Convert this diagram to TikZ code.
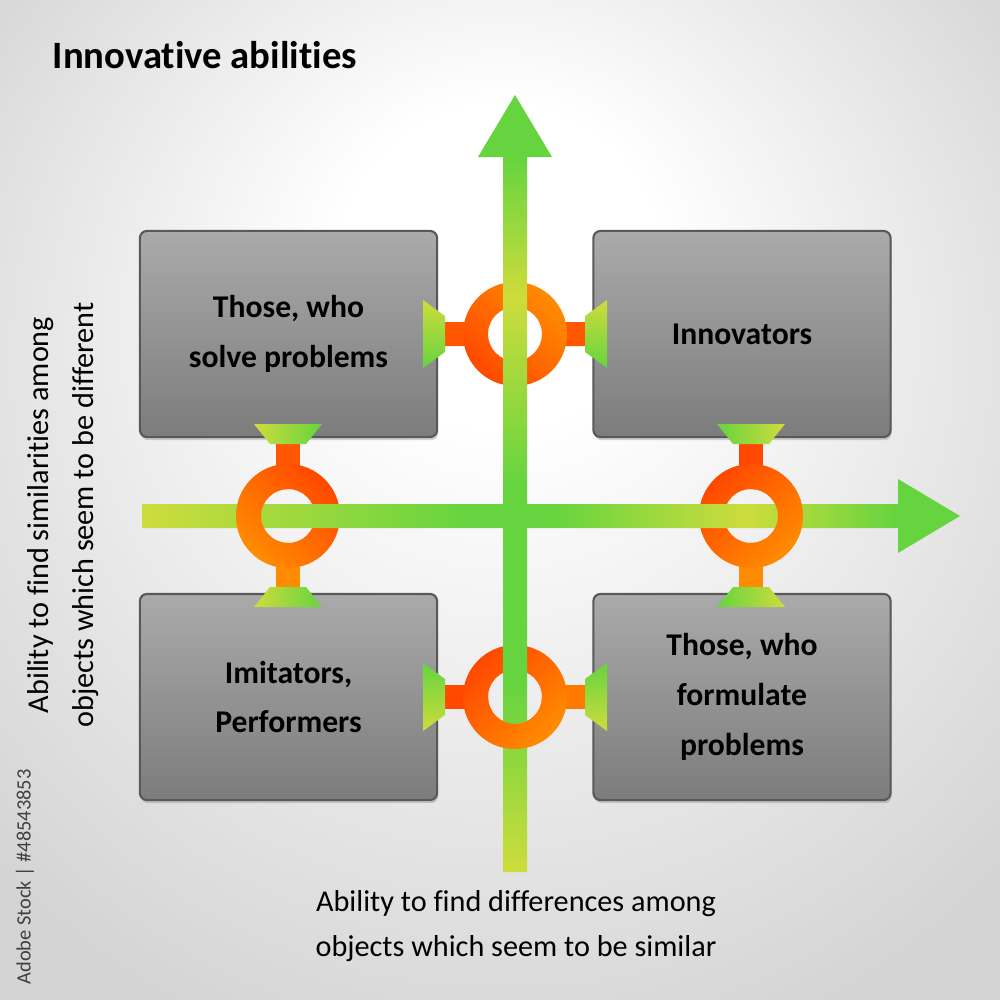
\documentclass[tikz,border=0pt]{standalone}
\usepackage{fontspec}
\setmainfont[Ligatures=NoCommon]{Carlito}
\usetikzlibrary{shadows}
\definecolor{agrn}{RGB}{102,212,63}
\definecolor{ayel}{RGB}{206,220,60}
\definecolor{rred}{RGB}{255,72,0}
\definecolor{rorg}{RGB}{255,140,0}
\definecolor{bxtop}{RGB}{170,170,170}
\definecolor{bxbot}{RGB}{124,124,124}
\definecolor{bgedge}{RGB}{212,212,212}
\pgfdeclareverticalshading{vgrad}{100bp}{color(0bp)=(ayel); color(25bp)=(ayel); color(37bp)=(agrn); color(50bp)=(agrn); color(62bp)=(ayel); color(71bp)=(agrn); color(100bp)=(agrn)}
\pgfdeclarehorizontalshading{hgrad}{100bp}{color(0bp)=(ayel); color(25bp)=(ayel); color(45bp)=(agrn); color(50bp)=(agrn); color(62bp)=(ayel); color(71bp)=(agrn); color(100bp)=(agrn)}
\pgfdeclareradialshading{bgglow}{\pgfpoint{0bp}{14bp}}{color(0bp)=(white); color(8bp)=(white); color(34bp)=(bgedge); color(50bp)=(bgedge)}
\tikzset{
  quad/.style={rectangle,rounded corners=2pt,minimum width=2.97cm,minimum height=2.06cm,
    top color=bxtop,bottom color=bxbot,draw=black!65,line width=0.6pt,
    drop shadow={shadow xshift=0.3pt,shadow yshift=-0.9pt,opacity=0.35},
    align=center,inner sep=0pt,font=\fontsize{9}{14.2}\selectfont\bfseries},
  axislabel/.style={align=center,inner sep=0pt,font=\fontsize{8.6}{12.8}\selectfont},
  ring/.style={even odd rule,draw=none},
  funnel/.style={draw=none},
  hubbar/.style={draw=none,fill=#1}
}
\begin{document}
\begin{tikzpicture}[x=0.01cm,y=-0.01cm]
\useasboundingbox (0,0) rectangle (1000,1000);
\shade[shading=bgglow] (0,0) rectangle (1000,1000);
\node[anchor=base west,inner sep=0pt,font=\fontsize{11}{13}\selectfont\bfseries](title) at (52,68){Innovative abilities};
\node[quad](solvers) at (288.5,334){Those, who\\solve problems};
\node[quad](innovators) at (742,334){Innovators};
\node[quad](imitators) at (288.5,697){Imitators,\\Performers};
\node[quad](formulators) at (742,697){Those, who\\formulate\\problems};
\coordinate(rtop) at (515,334);
\coordinate(rbot) at (515,697);
\coordinate(rleft) at (288,516);
\coordinate(rright) at (751,516);
\fill[hubbar=rred!80!rorg] (445,322) rectangle (482,346) (548,322) rectangle (585,346);
\fill[hubbar=rred] (445,685) rectangle (482,709);
\fill[hubbar=rorg!70!rred] (548,685) rectangle (585,709);
\fill[hubbar=rred!80!rorg] (276,444) rectangle (300,482);
\fill[hubbar=rorg] (276,550) rectangle (300,587);
\fill[hubbar=rred] (739,444) rectangle (763,482);
\fill[hubbar=rorg] (739,550) rectangle (763,587);
\shade[funnel,top color=ayel,bottom color=agrn] (423,300)--(445,316)--(445,352)--(423,368)--cycle;
\shade[funnel,top color=ayel,bottom color=agrn] (607,300)--(585,316)--(585,352)--(607,368)--cycle;
\shade[funnel,top color=agrn,bottom color=ayel] (423,663)--(445,679)--(445,715)--(423,731)--cycle;
\shade[funnel,top color=agrn,bottom color=ayel] (607,663)--(585,679)--(585,715)--(607,731)--cycle;
\shade[funnel,left color=ayel,right color=agrn] (254,424)--(322,424)--(306,444)--(270,444)--cycle;
\shade[funnel,left color=ayel,right color=agrn] (254,607)--(322,607)--(306,587)--(270,587)--cycle;
\shade[funnel,left color=agrn,right color=ayel] (717,424)--(785,424)--(769,444)--(733,444)--cycle;
\shade[funnel,left color=agrn,right color=ayel] (717,607)--(785,607)--(769,587)--(733,587)--cycle;
\shade[ring,top color=rorg,bottom color=rred,shading angle=-45] (rtop) circle (52) (rtop) circle (27);
\shade[ring,top color=rred,bottom color=rorg,shading angle=45] (rbot) circle (52) (rbot) circle (27);
\shade[ring,top color=rred,bottom color=rorg,shading angle=-45] (rleft) circle (52) (rleft) circle (27);
\shade[ring,top color=rred,bottom color=rorg,shading angle=45] (rright) circle (52) (rright) circle (27);
\shade[shading=vgrad] (503,872)--(503,157)--(478,157)--(515,95)--(552,157)--(527,157)--(527,872)--cycle;
\shade[shading=hgrad] (142,504)--(898,504)--(898,479)--(960,516)--(898,553)--(898,528)--(142,528)--cycle;
\begin{scope}
\clip (rbot) ++(-60,0) rectangle ++(120,60);
\shade[ring,top color=rred,bottom color=rorg,shading angle=45] (rbot) circle (52) (rbot) circle (27);
\end{scope}
\begin{scope}
\clip (rleft) ++(-60,-60) rectangle ++(60,120);
\shade[ring,top color=rred,bottom color=rorg,shading angle=-45] (rleft) circle (52) (rleft) circle (27);
\end{scope}
\begin{scope}
\clip (rright) ++(0,-60) rectangle ++(60,120);
\shade[ring,top color=rred,bottom color=rorg,shading angle=45] (rright) circle (52) (rright) circle (27);
\end{scope}
\node[axislabel](xlabel) at (516,926){Ability to find differences among\\objects which seem to be similar};
\node[axislabel,rotate=90](ylabel) at (63,515){Ability to find similarities among\\objects which seem to be different};
\node[rotate=90,inner sep=0pt,text=black!75,font=\fontsize{5.8}{7}\selectfont](stockid) at (25,877){Adobe Stock | \#48543853};
\end{tikzpicture}
\end{document}
